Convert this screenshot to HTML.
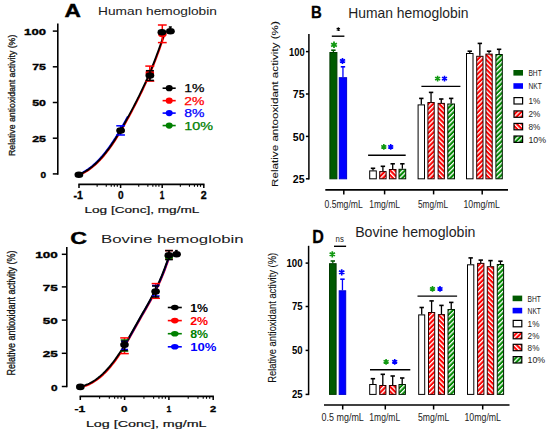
<!DOCTYPE html>
<html><head><meta charset="utf-8"><style>
html,body{margin:0;padding:0;background:#fff;width:550px;height:434px;overflow:hidden}
svg{display:block;font-family:"Liberation Sans",sans-serif}
</style></head><body>
<svg width="550" height="434" viewBox="0 0 550 434">
<defs>
<pattern id="hr1" patternUnits="userSpaceOnUse" width="3.4" height="3.4" patternTransform="rotate(45)">
<rect width="3.4" height="3.4" fill="#ff0000"/><rect width="1.3" height="3.4" fill="#ffffff"/></pattern>
<pattern id="hr2" patternUnits="userSpaceOnUse" width="3.4" height="3.4" patternTransform="rotate(-45)">
<rect width="3.4" height="3.4" fill="#ff0000"/><rect width="1.3" height="3.4" fill="#ffffff"/></pattern>
<pattern id="hg1" patternUnits="userSpaceOnUse" width="3.4" height="3.4" patternTransform="rotate(45)">
<rect width="3.4" height="3.4" fill="#008a00"/><rect width="1.3" height="3.4" fill="#ffffff"/></pattern>
</defs>
<rect width="550" height="434" fill="#fff"/>
<line x1="57.80" y1="23.50" x2="57.80" y2="174.65" stroke="#000" stroke-width="1.6"/>
<line x1="52.80" y1="173.90" x2="57.80" y2="173.90" stroke="#000" stroke-width="1.5"/>
<line x1="52.80" y1="138.20" x2="57.80" y2="138.20" stroke="#000" stroke-width="1.5"/>
<line x1="52.80" y1="102.50" x2="57.80" y2="102.50" stroke="#000" stroke-width="1.5"/>
<line x1="52.80" y1="66.80" x2="57.80" y2="66.80" stroke="#000" stroke-width="1.5"/>
<line x1="52.80" y1="31.10" x2="57.80" y2="31.10" stroke="#000" stroke-width="1.5"/>
<text x="46.00" y="177.50" font-size="9.4" fill="#000" text-anchor="end" stroke="#000" stroke-width="0.35" font-weight="bold" textLength="5.60" lengthAdjust="spacingAndGlyphs">0</text>
<text x="46.00" y="141.80" font-size="9.4" fill="#000" text-anchor="end" stroke="#000" stroke-width="0.35" font-weight="bold" textLength="13.80" lengthAdjust="spacingAndGlyphs">25</text>
<text x="46.00" y="106.10" font-size="9.4" fill="#000" text-anchor="end" stroke="#000" stroke-width="0.35" font-weight="bold" textLength="13.80" lengthAdjust="spacingAndGlyphs">50</text>
<text x="46.00" y="70.40" font-size="9.4" fill="#000" text-anchor="end" stroke="#000" stroke-width="0.35" font-weight="bold" textLength="13.80" lengthAdjust="spacingAndGlyphs">75</text>
<text x="46.00" y="34.70" font-size="9.4" fill="#000" text-anchor="end" stroke="#000" stroke-width="0.35" font-weight="bold" textLength="21.90" lengthAdjust="spacingAndGlyphs">100</text>
<line x1="78.30" y1="184.40" x2="204.50" y2="184.40" stroke="#000" stroke-width="1.6"/>
<line x1="79.00" y1="184.40" x2="79.00" y2="188.00" stroke="#000" stroke-width="1.5"/>
<line x1="120.60" y1="184.40" x2="120.60" y2="188.00" stroke="#000" stroke-width="1.5"/>
<line x1="162.20" y1="184.40" x2="162.20" y2="188.00" stroke="#000" stroke-width="1.5"/>
<line x1="203.80" y1="184.40" x2="203.80" y2="188.00" stroke="#000" stroke-width="1.5"/>
<line x1="97.14" y1="184.40" x2="97.14" y2="186.80" stroke="#000" stroke-width="1.1"/>
<line x1="106.25" y1="184.40" x2="106.25" y2="186.80" stroke="#000" stroke-width="1.1"/>
<line x1="111.24" y1="184.40" x2="111.24" y2="186.80" stroke="#000" stroke-width="1.1"/>
<line x1="114.32" y1="184.40" x2="114.32" y2="186.80" stroke="#000" stroke-width="1.1"/>
<line x1="117.31" y1="184.40" x2="117.31" y2="186.80" stroke="#000" stroke-width="1.1"/>
<line x1="138.74" y1="184.40" x2="138.74" y2="186.80" stroke="#000" stroke-width="1.1"/>
<line x1="147.85" y1="184.40" x2="147.85" y2="186.80" stroke="#000" stroke-width="1.1"/>
<line x1="152.84" y1="184.40" x2="152.84" y2="186.80" stroke="#000" stroke-width="1.1"/>
<line x1="155.92" y1="184.40" x2="155.92" y2="186.80" stroke="#000" stroke-width="1.1"/>
<line x1="158.91" y1="184.40" x2="158.91" y2="186.80" stroke="#000" stroke-width="1.1"/>
<line x1="180.34" y1="184.40" x2="180.34" y2="186.80" stroke="#000" stroke-width="1.1"/>
<line x1="189.45" y1="184.40" x2="189.45" y2="186.80" stroke="#000" stroke-width="1.1"/>
<line x1="194.44" y1="184.40" x2="194.44" y2="186.80" stroke="#000" stroke-width="1.1"/>
<line x1="197.52" y1="184.40" x2="197.52" y2="186.80" stroke="#000" stroke-width="1.1"/>
<line x1="200.51" y1="184.40" x2="200.51" y2="186.80" stroke="#000" stroke-width="1.1"/>
<text x="78.30" y="198.50" font-size="10.2" fill="#000" text-anchor="middle" stroke="#000" stroke-width="0.3" font-weight="bold" textLength="9.50" lengthAdjust="spacingAndGlyphs">-1</text>
<text x="120.70" y="198.50" font-size="10.2" fill="#000" text-anchor="middle" stroke="#000" stroke-width="0.3" font-weight="bold" textLength="5.60" lengthAdjust="spacingAndGlyphs">0</text>
<text x="162.10" y="198.50" font-size="10.2" fill="#000" text-anchor="middle" stroke="#000" stroke-width="0.3" font-weight="bold" textLength="4.60" lengthAdjust="spacingAndGlyphs">1</text>
<text x="203.60" y="198.50" font-size="10.2" fill="#000" text-anchor="middle" stroke="#000" stroke-width="0.3" font-weight="bold" textLength="5.90" lengthAdjust="spacingAndGlyphs">2</text>
<text x="84.50" y="212.80" font-size="9.6" fill="#111111" text-anchor="start" stroke="#111111" stroke-width="0.2" textLength="114.80" lengthAdjust="spacingAndGlyphs">Log [Conc], mg/mL</text>
<text x="14.70" y="156.00" font-size="9.8" fill="#111111" text-anchor="start" stroke="#111111" stroke-width="0.3" textLength="121.30" lengthAdjust="spacingAndGlyphs" transform="rotate(-90 14.70 156.00)">Relative antioxidant activity (%)</text>
<text x="64.40" y="17.00" font-size="17.6" fill="#000" text-anchor="start" stroke="#000" stroke-width="0.4" font-weight="bold" textLength="16.40" lengthAdjust="spacingAndGlyphs">A</text>
<text x="98.10" y="15.30" font-size="10.3" fill="#1c1c1c" text-anchor="start" stroke="#1c1c1c" stroke-width="0.05" textLength="118.80" lengthAdjust="spacingAndGlyphs">Human hemoglobin</text>
<line x1="66.80" y1="247.00" x2="66.80" y2="387.25" stroke="#000" stroke-width="1.6"/>
<line x1="61.80" y1="386.50" x2="66.80" y2="386.50" stroke="#000" stroke-width="1.5"/>
<line x1="61.80" y1="353.30" x2="66.80" y2="353.30" stroke="#000" stroke-width="1.5"/>
<line x1="61.80" y1="320.10" x2="66.80" y2="320.10" stroke="#000" stroke-width="1.5"/>
<line x1="61.80" y1="286.90" x2="66.80" y2="286.90" stroke="#000" stroke-width="1.5"/>
<line x1="61.80" y1="254.30" x2="66.80" y2="254.30" stroke="#000" stroke-width="1.5"/>
<text x="57.70" y="390.60" font-size="9.4" fill="#000" text-anchor="end" stroke="#000" stroke-width="0.35" font-weight="bold" textLength="6.60" lengthAdjust="spacingAndGlyphs">0</text>
<text x="57.70" y="357.40" font-size="9.4" fill="#000" text-anchor="end" stroke="#000" stroke-width="0.35" font-weight="bold" textLength="15.00" lengthAdjust="spacingAndGlyphs">25</text>
<text x="57.70" y="324.20" font-size="9.4" fill="#000" text-anchor="end" stroke="#000" stroke-width="0.35" font-weight="bold" textLength="15.00" lengthAdjust="spacingAndGlyphs">50</text>
<text x="57.70" y="291.00" font-size="9.4" fill="#000" text-anchor="end" stroke="#000" stroke-width="0.35" font-weight="bold" textLength="15.00" lengthAdjust="spacingAndGlyphs">75</text>
<text x="57.70" y="258.40" font-size="9.4" fill="#000" text-anchor="end" stroke="#000" stroke-width="0.35" font-weight="bold" textLength="22.50" lengthAdjust="spacingAndGlyphs">100</text>
<line x1="79.60" y1="396.40" x2="213.90" y2="396.40" stroke="#000" stroke-width="1.6"/>
<line x1="80.30" y1="396.40" x2="80.30" y2="400.00" stroke="#000" stroke-width="1.5"/>
<line x1="124.60" y1="396.40" x2="124.60" y2="400.00" stroke="#000" stroke-width="1.5"/>
<line x1="168.90" y1="396.40" x2="168.90" y2="400.00" stroke="#000" stroke-width="1.5"/>
<line x1="213.20" y1="396.40" x2="213.20" y2="400.00" stroke="#000" stroke-width="1.5"/>
<line x1="99.61" y1="396.40" x2="99.61" y2="398.80" stroke="#000" stroke-width="1.1"/>
<line x1="109.32" y1="396.40" x2="109.32" y2="398.80" stroke="#000" stroke-width="1.1"/>
<line x1="114.63" y1="396.40" x2="114.63" y2="398.80" stroke="#000" stroke-width="1.1"/>
<line x1="117.91" y1="396.40" x2="117.91" y2="398.80" stroke="#000" stroke-width="1.1"/>
<line x1="121.10" y1="396.40" x2="121.10" y2="398.80" stroke="#000" stroke-width="1.1"/>
<line x1="143.91" y1="396.40" x2="143.91" y2="398.80" stroke="#000" stroke-width="1.1"/>
<line x1="153.62" y1="396.40" x2="153.62" y2="398.80" stroke="#000" stroke-width="1.1"/>
<line x1="158.93" y1="396.40" x2="158.93" y2="398.80" stroke="#000" stroke-width="1.1"/>
<line x1="162.21" y1="396.40" x2="162.21" y2="398.80" stroke="#000" stroke-width="1.1"/>
<line x1="165.40" y1="396.40" x2="165.40" y2="398.80" stroke="#000" stroke-width="1.1"/>
<line x1="188.21" y1="396.40" x2="188.21" y2="398.80" stroke="#000" stroke-width="1.1"/>
<line x1="197.92" y1="396.40" x2="197.92" y2="398.80" stroke="#000" stroke-width="1.1"/>
<line x1="203.23" y1="396.40" x2="203.23" y2="398.80" stroke="#000" stroke-width="1.1"/>
<line x1="206.51" y1="396.40" x2="206.51" y2="398.80" stroke="#000" stroke-width="1.1"/>
<line x1="209.70" y1="396.40" x2="209.70" y2="398.80" stroke="#000" stroke-width="1.1"/>
<text x="79.90" y="412.00" font-size="9.4" fill="#000" text-anchor="middle" stroke="#000" stroke-width="0.3" font-weight="bold" textLength="10.80" lengthAdjust="spacingAndGlyphs">-1</text>
<text x="124.20" y="412.00" font-size="9.4" fill="#000" text-anchor="middle" stroke="#000" stroke-width="0.3" font-weight="bold" textLength="6.40" lengthAdjust="spacingAndGlyphs">0</text>
<text x="168.90" y="412.00" font-size="9.4" fill="#000" text-anchor="middle" stroke="#000" stroke-width="0.3" font-weight="bold" textLength="4.80" lengthAdjust="spacingAndGlyphs">1</text>
<text x="213.00" y="412.00" font-size="9.4" fill="#000" text-anchor="middle" stroke="#000" stroke-width="0.3" font-weight="bold" textLength="6.20" lengthAdjust="spacingAndGlyphs">2</text>
<text x="85.90" y="426.80" font-size="9.9" fill="#111111" text-anchor="start" stroke="#111111" stroke-width="0.2" textLength="120.60" lengthAdjust="spacingAndGlyphs">Log [Conc], mg/mL</text>
<text x="15.20" y="375.60" font-size="10.2" fill="#111111" text-anchor="start" stroke="#111111" stroke-width="0.3" textLength="125.10" lengthAdjust="spacingAndGlyphs" transform="rotate(-90 15.20 375.60)">Relative antioxidant activity (%)</text>
<text x="70.30" y="244.20" font-size="17.0" fill="#000" text-anchor="start" stroke="#000" stroke-width="0.4" font-weight="bold" textLength="16.80" lengthAdjust="spacingAndGlyphs">C</text>
<text x="101.00" y="242.80" font-size="11.8" fill="#1c1c1c" text-anchor="start" stroke="#1c1c1c" stroke-width="0.05" textLength="142.60" lengthAdjust="spacingAndGlyphs">Bovine hemoglobin</text>
<path d="M78.40,174.40 L79.02,174.16 L79.64,173.90 L80.26,173.63 L80.89,173.35 L81.51,173.05 L82.13,172.75 L82.75,172.43 L83.37,172.09 L83.99,171.75 L84.62,171.39 L85.24,171.02 L85.86,170.64 L86.48,170.24 L87.10,169.83 L87.72,169.41 L88.34,168.98 L88.97,168.53 L89.59,168.08 L90.21,167.61 L90.83,167.12 L91.45,166.62 L92.07,166.12 L92.69,165.59 L93.32,165.06 L93.94,164.51 L94.56,163.95 L95.18,163.38 L95.80,162.80 L96.42,162.20 L97.05,161.59 L97.67,160.96 L98.29,160.33 L98.91,159.68 L99.53,159.02 L100.15,158.34 L100.77,157.66 L101.40,156.96 L102.02,156.25 L102.64,155.52 L103.26,154.78 L103.88,154.03 L104.50,153.27 L105.13,152.50 L105.75,151.71 L106.37,150.91 L106.99,150.09 L107.61,149.27 L108.23,148.43 L108.85,147.57 L109.48,146.71 L110.10,145.83 L110.72,144.94 L111.34,144.04 L111.96,143.12 L112.58,142.20 L113.21,141.26 L113.83,140.31 L114.45,139.35 L115.07,138.37 L115.69,137.39 L116.31,136.40 L116.93,135.39 L117.56,134.38 L118.18,133.36 L118.80,132.32 L119.42,131.28 L120.04,130.23 L120.66,129.17 L121.28,128.10 L121.91,127.02 L122.53,125.94 L123.15,124.84 L123.77,123.74 L124.39,122.63 L125.01,121.52 L125.64,120.40 L126.26,119.27 L126.88,118.13 L127.50,116.99" fill="none" stroke="#0000ff" stroke-width="1.8" stroke-linejoin="round" stroke-linecap="round"/>
<path d="M79.40,174.90 L80.47,174.47 L81.54,174.01 L82.61,173.50 L83.68,172.96 L84.75,172.38 L85.83,171.77 L86.90,171.11 L87.97,170.42 L89.04,169.70 L90.11,168.93 L91.18,168.13 L92.25,167.29 L93.32,166.41 L94.39,165.49 L95.46,164.54 L96.53,163.55 L97.61,162.52 L98.68,161.45 L99.75,160.35 L100.82,159.21 L101.89,158.03 L102.96,156.81 L104.03,155.56 L105.10,154.27 L106.17,152.94 L107.24,151.57 L108.31,150.16 L109.38,148.72 L110.46,147.24 L111.53,145.72 L112.60,144.16 L113.67,142.57 L114.74,140.94 L115.81,139.28 L116.88,137.59 L117.95,135.86 L119.02,134.11 L120.09,132.33 L121.16,130.52 L122.24,128.68 L123.31,126.82 L124.38,124.94 L125.45,123.03 L126.52,121.11 L127.59,119.16 L128.66,117.20 L129.73,115.22 L130.80,113.22 L131.87,111.21 L132.94,109.18 L134.02,107.14 L135.09,105.08 L136.16,103.00 L137.23,100.90 L138.30,98.77 L139.37,96.62 L140.44,94.44 L141.51,92.24 L142.58,90.00 L143.65,87.73 L144.72,85.43 L145.79,83.09 L146.87,80.71 L147.94,78.29 L149.01,75.84 L150.08,73.34 L151.15,70.79 L152.22,68.20 L153.29,65.56 L154.36,62.87 L155.43,60.13 L156.50,57.33 L157.57,54.48 L158.65,51.57 L159.72,48.60 L160.79,45.57 L161.86,42.48 L162.93,39.33 L164.00,36.11" fill="none" stroke="#ff0000" stroke-width="1.8" stroke-linejoin="round" stroke-linecap="round"/>
<path d="M78.90,174.60 L79.97,174.17 L81.04,173.71 L82.11,173.20 L83.18,172.66 L84.25,172.08 L85.33,171.47 L86.40,170.81 L87.47,170.12 L88.54,169.40 L89.61,168.63 L90.68,167.83 L91.75,166.99 L92.82,166.11 L93.89,165.19 L94.96,164.24 L96.03,163.25 L97.11,162.22 L98.18,161.15 L99.25,160.05 L100.32,158.91 L101.39,157.73 L102.46,156.51 L103.53,155.26 L104.60,153.97 L105.67,152.64 L106.74,151.27 L107.81,149.86 L108.88,148.42 L109.96,146.94 L111.03,145.42 L112.10,143.86 L113.17,142.27 L114.24,140.64 L115.31,138.98 L116.38,137.29 L117.45,135.56 L118.52,133.81 L119.59,132.03 L120.66,130.22 L121.74,128.38 L122.81,126.52 L123.88,124.64 L124.95,122.73 L126.02,120.81 L127.09,118.86 L128.16,116.90 L129.23,114.92 L130.30,112.92 L131.37,110.91 L132.44,108.88 L133.52,106.84 L134.59,104.78 L135.66,102.70 L136.73,100.60 L137.80,98.47 L138.87,96.32 L139.94,94.14 L141.01,91.94 L142.08,89.70 L143.15,87.43 L144.22,85.13 L145.29,82.79 L146.37,80.41 L147.44,77.99 L148.51,75.54 L149.58,73.04 L150.65,70.49 L151.72,67.90 L152.79,65.26 L153.86,62.57 L154.93,59.83 L156.00,57.03 L157.07,54.18 L158.15,51.27 L159.22,48.30 L160.29,45.27 L161.36,42.18 L162.43,39.03 L163.50,35.81" fill="none" stroke="#000" stroke-width="1.8" stroke-linejoin="round" stroke-linecap="round"/>
<line x1="120.60" y1="125.80" x2="120.60" y2="135.00" stroke="#0000ff" stroke-width="1.5"/>
<line x1="116.25" y1="125.80" x2="124.95" y2="125.80" stroke="#0000ff" stroke-width="1.5"/>
<line x1="116.25" y1="135.00" x2="124.95" y2="135.00" stroke="#0000ff" stroke-width="1.5"/>
<line x1="149.80" y1="66.10" x2="149.80" y2="81.10" stroke="#ff0000" stroke-width="1.5"/>
<line x1="145.30" y1="66.10" x2="154.30" y2="66.10" stroke="#ff0000" stroke-width="1.5"/>
<line x1="145.30" y1="81.10" x2="154.30" y2="81.10" stroke="#ff0000" stroke-width="1.5"/>
<line x1="162.30" y1="25.00" x2="162.30" y2="42.60" stroke="#ff0000" stroke-width="1.5"/>
<line x1="157.90" y1="25.00" x2="166.70" y2="25.00" stroke="#ff0000" stroke-width="1.5"/>
<line x1="157.90" y1="42.60" x2="166.70" y2="42.60" stroke="#ff0000" stroke-width="1.5"/>
<ellipse cx="149.80" cy="73.00" rx="4.3" ry="3.2" fill="#ff0000"/>
<ellipse cx="162.40" cy="34.00" rx="4.3" ry="3.2" fill="#ff0000"/>
<line x1="149.90" y1="70.70" x2="149.90" y2="80.40" stroke="#000" stroke-width="1.5"/>
<line x1="145.90" y1="70.70" x2="153.90" y2="70.70" stroke="#000" stroke-width="1.5"/>
<line x1="145.90" y1="80.40" x2="153.90" y2="80.40" stroke="#000" stroke-width="1.5"/>
<line x1="170.30" y1="27.00" x2="170.30" y2="33.00" stroke="#000" stroke-width="1.5"/>
<line x1="168.80" y1="27.00" x2="171.80" y2="27.00" stroke="#000" stroke-width="1.5"/>
<line x1="168.80" y1="33.00" x2="171.80" y2="33.00" stroke="#000" stroke-width="1.5"/>
<ellipse cx="78.90" cy="174.70" rx="4.4" ry="3.3" fill="#000"/>
<ellipse cx="120.60" cy="130.60" rx="4.4" ry="3.3" fill="#000"/>
<ellipse cx="149.90" cy="75.60" rx="4.4" ry="3.3" fill="#000"/>
<ellipse cx="161.90" cy="32.20" rx="4.4" ry="3.3" fill="#000"/>
<ellipse cx="170.40" cy="31.20" rx="4.4" ry="3.3" fill="#000"/>
<line x1="162.60" y1="88.20" x2="175.70" y2="88.20" stroke="#000" stroke-width="1.6"/>
<ellipse cx="169.20" cy="88.20" rx="3.5" ry="3.1" fill="#000"/>
<text x="184.30" y="92.20" font-size="11.5" fill="#000" text-anchor="start" stroke="#000" stroke-width="0.25" textLength="20.20" lengthAdjust="spacingAndGlyphs">1%</text>
<line x1="162.60" y1="100.65" x2="175.70" y2="100.65" stroke="#ff0000" stroke-width="1.6"/>
<ellipse cx="169.20" cy="100.65" rx="3.5" ry="3.1" fill="#ff0000"/>
<text x="184.30" y="104.65" font-size="11.5" fill="#ff0000" text-anchor="start" stroke="#ff0000" stroke-width="0.25" textLength="20.20" lengthAdjust="spacingAndGlyphs">2%</text>
<line x1="162.60" y1="113.10" x2="175.70" y2="113.10" stroke="#0000ff" stroke-width="1.6"/>
<ellipse cx="169.20" cy="113.10" rx="3.5" ry="3.1" fill="#0000ff"/>
<text x="184.30" y="117.10" font-size="11.5" fill="#0000ff" text-anchor="start" stroke="#0000ff" stroke-width="0.25" textLength="20.20" lengthAdjust="spacingAndGlyphs">8%</text>
<line x1="162.60" y1="125.55" x2="175.70" y2="125.55" stroke="#008000" stroke-width="1.6"/>
<ellipse cx="169.20" cy="125.55" rx="3.5" ry="3.1" fill="#008000"/>
<text x="184.30" y="129.55" font-size="11.5" fill="#008000" text-anchor="start" stroke="#008000" stroke-width="0.25" textLength="28.80" lengthAdjust="spacingAndGlyphs">10%</text>
<path d="M80.80,387.09 L81.93,386.87 L83.05,386.60 L84.18,386.28 L85.30,385.93 L86.43,385.53 L87.55,385.09 L88.68,384.61 L89.80,384.09 L90.93,383.52 L92.05,382.91 L93.18,382.26 L94.30,381.56 L95.43,380.82 L96.55,380.04 L97.68,379.22 L98.81,378.35 L99.93,377.44 L101.06,376.48 L102.18,375.48 L103.31,374.44 L104.43,373.35 L105.56,372.22 L106.68,371.05 L107.81,369.83 L108.93,368.57 L110.06,367.27 L111.18,365.92 L112.31,364.52 L113.43,363.09 L114.56,361.60 L115.68,360.08 L116.81,358.50 L117.94,356.89 L119.06,355.23 L120.19,353.52 L121.31,351.77 L122.44,349.99 L123.56,348.16 L124.69,346.31 L125.81,344.42 L126.94,342.51 L128.06,340.57 L129.19,338.61 L130.31,336.64 L131.44,334.65 L132.56,332.65 L133.69,330.64 L134.82,328.62 L135.94,326.61 L137.07,324.59 L138.19,322.59 L139.32,320.58 L140.44,318.59 L141.57,316.62 L142.69,314.65 L143.82,312.69 L144.94,310.73 L146.07,308.76 L147.19,306.78 L148.32,304.79 L149.44,302.77 L150.57,300.72 L151.69,298.64 L152.82,296.52 L153.95,294.35 L155.07,292.13 L156.20,289.85 L157.32,287.51 L158.45,285.10 L159.57,282.62 L160.70,280.05 L161.82,277.40 L162.95,274.65 L164.07,271.80 L165.20,268.85 L166.32,265.78 L167.45,262.60 L168.57,259.29 L169.70,255.85" fill="none" stroke="#ff0000" stroke-width="1.9" stroke-linejoin="round" stroke-linecap="round"/>
<path d="M126.40,342.45 L126.95,341.52 L127.49,340.58 L128.04,339.64 L128.59,338.69 L129.13,337.73 L129.68,336.77 L130.23,335.81 L130.77,334.85 L131.32,333.88 L131.87,332.91 L132.42,331.93 L132.96,330.96 L133.51,329.98 L134.06,329.00 L134.60,328.03 L135.15,327.05 L135.70,326.07 L136.24,325.09 L136.79,324.11 L137.34,323.13 L137.88,322.16 L138.43,321.18 L138.98,320.21 L139.52,319.24 L140.07,318.27 L140.62,317.31 L141.16,316.35 L141.71,315.39 L142.26,314.43 L142.81,313.48 L143.35,312.53 L143.90,311.57 L144.45,310.62 L144.99,309.67 L145.54,308.71 L146.09,307.76 L146.63,306.80 L147.18,305.83 L147.73,304.86 L148.27,303.89 L148.82,302.91 L149.37,301.93 L149.91,300.94 L150.46,299.94 L151.01,298.93 L151.55,297.91 L152.10,296.89 L152.65,295.85 L153.19,294.81 L153.74,293.75 L154.29,292.68 L154.84,291.60 L155.38,290.50 L155.93,289.39 L156.48,288.27 L157.02,287.13 L157.57,285.97 L158.12,284.80 L158.66,283.61 L159.21,282.40 L159.76,281.17 L160.30,279.93 L160.85,278.66 L161.40,277.37 L161.94,276.06 L162.49,274.73 L163.04,273.37 L163.58,272.00 L164.13,270.59 L164.68,269.16 L165.23,267.71 L165.77,266.23 L166.32,264.72 L166.87,263.18 L167.41,261.61 L167.96,260.02 L168.51,258.39 L169.05,256.74 L169.60,255.05" fill="none" stroke="#0000ff" stroke-width="1.9" stroke-linejoin="round" stroke-linecap="round"/>
<path d="M80.30,386.49 L81.43,386.27 L82.55,386.00 L83.68,385.68 L84.80,385.33 L85.93,384.93 L87.05,384.49 L88.18,384.01 L89.30,383.49 L90.43,382.92 L91.55,382.31 L92.68,381.66 L93.80,380.96 L94.93,380.22 L96.05,379.44 L97.18,378.62 L98.31,377.75 L99.43,376.84 L100.56,375.88 L101.68,374.88 L102.81,373.84 L103.93,372.75 L105.06,371.62 L106.18,370.45 L107.31,369.23 L108.43,367.97 L109.56,366.67 L110.68,365.32 L111.81,363.92 L112.93,362.49 L114.06,361.00 L115.18,359.48 L116.31,357.90 L117.44,356.29 L118.56,354.63 L119.69,352.92 L120.81,351.17 L121.94,349.39 L123.06,347.56 L124.19,345.71 L125.31,343.82 L126.44,341.91 L127.56,339.97 L128.69,338.01 L129.81,336.04 L130.94,334.05 L132.06,332.05 L133.19,330.04 L134.32,328.02 L135.44,326.01 L136.57,323.99 L137.69,321.99 L138.82,319.98 L139.94,317.99 L141.07,316.02 L142.19,314.05 L143.32,312.09 L144.44,310.13 L145.57,308.16 L146.69,306.18 L147.82,304.19 L148.94,302.17 L150.07,300.12 L151.19,298.04 L152.32,295.92 L153.45,293.75 L154.57,291.53 L155.70,289.25 L156.82,286.91 L157.95,284.50 L159.07,282.02 L160.20,279.45 L161.32,276.80 L162.45,274.05 L163.57,271.20 L164.70,268.25 L165.82,265.18 L166.95,262.00 L168.07,258.69 L169.20,255.25" fill="none" stroke="#000" stroke-width="1.9" stroke-linejoin="round" stroke-linecap="round"/>
<line x1="124.50" y1="337.90" x2="124.50" y2="353.60" stroke="#ff0000" stroke-width="1.5"/>
<line x1="120.20" y1="337.90" x2="128.80" y2="337.90" stroke="#ff0000" stroke-width="1.5"/>
<line x1="120.20" y1="353.60" x2="128.80" y2="353.60" stroke="#ff0000" stroke-width="1.5"/>
<line x1="124.50" y1="340.00" x2="124.50" y2="351.00" stroke="#008000" stroke-width="1.5"/>
<line x1="120.70" y1="340.00" x2="128.30" y2="340.00" stroke="#008000" stroke-width="1.5"/>
<line x1="120.70" y1="351.00" x2="128.30" y2="351.00" stroke="#008000" stroke-width="1.5"/>
<line x1="124.50" y1="341.50" x2="124.50" y2="349.50" stroke="#0000ff" stroke-width="1.5"/>
<line x1="121.00" y1="341.50" x2="128.00" y2="341.50" stroke="#0000ff" stroke-width="1.5"/>
<line x1="121.00" y1="349.50" x2="128.00" y2="349.50" stroke="#0000ff" stroke-width="1.5"/>
<line x1="155.80" y1="283.60" x2="155.80" y2="298.30" stroke="#ff0000" stroke-width="1.5"/>
<line x1="151.65" y1="283.60" x2="159.95" y2="283.60" stroke="#ff0000" stroke-width="1.5"/>
<line x1="151.65" y1="298.30" x2="159.95" y2="298.30" stroke="#ff0000" stroke-width="1.5"/>
<line x1="155.80" y1="285.50" x2="155.80" y2="296.00" stroke="#0000ff" stroke-width="1.5"/>
<line x1="152.00" y1="285.50" x2="159.60" y2="285.50" stroke="#0000ff" stroke-width="1.5"/>
<line x1="152.00" y1="296.00" x2="159.60" y2="296.00" stroke="#0000ff" stroke-width="1.5"/>
<line x1="169.00" y1="250.60" x2="169.00" y2="259.00" stroke="#ff0000" stroke-width="1.5"/>
<line x1="165.00" y1="250.60" x2="173.00" y2="250.60" stroke="#ff0000" stroke-width="1.5"/>
<line x1="165.00" y1="259.00" x2="173.00" y2="259.00" stroke="#ff0000" stroke-width="1.5"/>
<ellipse cx="169.00" cy="256.50" rx="4.2" ry="3.2" fill="#008000"/>
<line x1="155.60" y1="286.00" x2="155.60" y2="297.00" stroke="#000" stroke-width="1.5"/>
<line x1="152.10" y1="286.00" x2="159.10" y2="286.00" stroke="#000" stroke-width="1.5"/>
<line x1="152.10" y1="297.00" x2="159.10" y2="297.00" stroke="#000" stroke-width="1.5"/>
<line x1="124.50" y1="341.00" x2="124.50" y2="350.50" stroke="#000" stroke-width="1.5"/>
<line x1="121.25" y1="341.00" x2="127.75" y2="341.00" stroke="#000" stroke-width="1.5"/>
<line x1="121.25" y1="350.50" x2="127.75" y2="350.50" stroke="#000" stroke-width="1.5"/>
<line x1="169.00" y1="250.60" x2="169.00" y2="259.60" stroke="#000" stroke-width="1.5"/>
<line x1="165.20" y1="250.60" x2="172.80" y2="250.60" stroke="#000" stroke-width="1.5"/>
<line x1="165.20" y1="259.60" x2="172.80" y2="259.60" stroke="#000" stroke-width="1.5"/>
<line x1="176.40" y1="250.60" x2="176.40" y2="254.00" stroke="#000" stroke-width="1.5"/>
<line x1="175.10" y1="250.60" x2="177.70" y2="250.60" stroke="#000" stroke-width="1.5"/>
<line x1="175.10" y1="254.00" x2="177.70" y2="254.00" stroke="#000" stroke-width="1.5"/>
<ellipse cx="80.30" cy="386.90" rx="4.3" ry="3.3" fill="#000"/>
<ellipse cx="124.50" cy="344.80" rx="4.3" ry="3.3" fill="#000"/>
<ellipse cx="155.60" cy="291.50" rx="4.3" ry="3.3" fill="#000"/>
<ellipse cx="168.80" cy="255.20" rx="4.3" ry="3.3" fill="#000"/>
<ellipse cx="176.60" cy="254.20" rx="4.3" ry="3.3" fill="#000"/>
<line x1="167.80" y1="307.50" x2="181.80" y2="307.50" stroke="#000" stroke-width="1.6"/>
<ellipse cx="174.80" cy="307.50" rx="3.8" ry="2.8" fill="#000"/>
<text x="190.20" y="311.60" font-size="11.2" fill="#000" text-anchor="start" font-weight="bold" textLength="17.90" lengthAdjust="spacingAndGlyphs">1%</text>
<line x1="167.80" y1="320.60" x2="181.80" y2="320.60" stroke="#ff0000" stroke-width="1.6"/>
<ellipse cx="174.80" cy="320.60" rx="3.8" ry="2.8" fill="#ff0000"/>
<text x="190.20" y="324.70" font-size="11.2" fill="#ff0000" text-anchor="start" font-weight="bold" textLength="17.90" lengthAdjust="spacingAndGlyphs">2%</text>
<line x1="167.80" y1="333.70" x2="181.80" y2="333.70" stroke="#008000" stroke-width="1.6"/>
<ellipse cx="174.80" cy="333.70" rx="3.8" ry="2.8" fill="#008000"/>
<text x="190.20" y="337.80" font-size="11.2" fill="#008000" text-anchor="start" font-weight="bold" textLength="17.90" lengthAdjust="spacingAndGlyphs">8%</text>
<line x1="167.80" y1="346.80" x2="181.80" y2="346.80" stroke="#0000ff" stroke-width="1.6"/>
<ellipse cx="174.80" cy="346.80" rx="3.8" ry="2.8" fill="#0000ff"/>
<text x="190.20" y="350.90" font-size="11.2" fill="#0000ff" text-anchor="start" font-weight="bold" textLength="26.20" lengthAdjust="spacingAndGlyphs">10%</text>
<line x1="308.90" y1="34.10" x2="308.90" y2="179.50" stroke="#000" stroke-width="1.5"/>
<line x1="305.90" y1="178.80" x2="308.90" y2="178.80" stroke="#000" stroke-width="1.5"/>
<line x1="305.90" y1="136.40" x2="308.90" y2="136.40" stroke="#000" stroke-width="1.5"/>
<line x1="305.90" y1="94.00" x2="308.90" y2="94.00" stroke="#000" stroke-width="1.5"/>
<line x1="305.90" y1="51.60" x2="308.90" y2="51.60" stroke="#000" stroke-width="1.5"/>
<text x="304.60" y="183.00" font-size="11.6" fill="#000" text-anchor="end" font-weight="bold" textLength="11.80" lengthAdjust="spacingAndGlyphs">25</text>
<text x="304.60" y="140.60" font-size="11.6" fill="#000" text-anchor="end" font-weight="bold" textLength="11.80" lengthAdjust="spacingAndGlyphs">50</text>
<text x="304.60" y="98.20" font-size="11.6" fill="#000" text-anchor="end" font-weight="bold" textLength="11.80" lengthAdjust="spacingAndGlyphs">75</text>
<text x="304.60" y="55.80" font-size="11.6" fill="#000" text-anchor="end" font-weight="bold" textLength="15.60" lengthAdjust="spacingAndGlyphs">100</text>
<line x1="325.30" y1="189.90" x2="508.00" y2="189.90" stroke="#000" stroke-width="1.6"/>
<line x1="343.80" y1="189.90" x2="343.80" y2="194.40" stroke="#000" stroke-width="1.5"/>
<line x1="384.60" y1="189.90" x2="384.60" y2="194.40" stroke="#000" stroke-width="1.5"/>
<line x1="433.60" y1="189.90" x2="433.60" y2="194.40" stroke="#000" stroke-width="1.5"/>
<line x1="482.20" y1="189.90" x2="482.20" y2="194.40" stroke="#000" stroke-width="1.5"/>
<text x="324.50" y="208.20" font-size="10.5" fill="#222" text-anchor="start" textLength="38.20" lengthAdjust="spacingAndGlyphs">0.5mg/mL</text>
<text x="369.30" y="208.20" font-size="10.5" fill="#222" text-anchor="start" textLength="30.70" lengthAdjust="spacingAndGlyphs">1mg/mL</text>
<text x="418.00" y="208.20" font-size="10.5" fill="#222" text-anchor="start" textLength="30.00" lengthAdjust="spacingAndGlyphs">5mg/mL</text>
<text x="463.50" y="208.20" font-size="10.5" fill="#222" text-anchor="start" textLength="36.30" lengthAdjust="spacingAndGlyphs">10mg/mL</text>
<text x="277.90" y="186.90" font-size="9.6" fill="#111111" text-anchor="start" stroke="#111111" stroke-width="0.1" textLength="165.70" lengthAdjust="spacingAndGlyphs" transform="rotate(-90 277.90 186.90)">Relative antooxidant activity (%)</text>
<text x="311.00" y="18.00" font-size="17.0" fill="#000" text-anchor="start" stroke="#000" stroke-width="0.3" font-weight="bold" textLength="10.80" lengthAdjust="spacingAndGlyphs">B</text>
<text x="348.20" y="17.70" font-size="15.0" fill="#1e1e1e" text-anchor="start" textLength="120.30" lengthAdjust="spacingAndGlyphs">Human hemoglobin</text>
<line x1="333.40" y1="52.00" x2="333.40" y2="50.20" stroke="#005a00" stroke-width="1.3"/>
<line x1="331.20" y1="50.20" x2="335.60" y2="50.20" stroke="#005a00" stroke-width="1.6"/>
<rect x="329.90" y="52.50" width="7.00" height="126.30" fill="#005a00" stroke="#003a00" stroke-width="1.0"/>
<line x1="342.95" y1="77.20" x2="342.95" y2="66.80" stroke="#0000ff" stroke-width="1.3"/>
<line x1="340.75" y1="66.80" x2="345.15" y2="66.80" stroke="#0000ff" stroke-width="1.6"/>
<rect x="339.30" y="77.70" width="7.30" height="101.10" fill="#0000ff" stroke="#0000d0" stroke-width="1.0"/>
<line x1="373.00" y1="170.40" x2="373.00" y2="168.30" stroke="#000" stroke-width="1.3"/>
<line x1="370.80" y1="168.30" x2="375.20" y2="168.30" stroke="#000" stroke-width="1.6"/>
<rect x="369.70" y="170.90" width="6.60" height="7.90" fill="#ffffff" stroke="#000" stroke-width="1.0"/>
<line x1="382.90" y1="171.10" x2="382.90" y2="166.30" stroke="#000" stroke-width="1.3"/>
<line x1="380.70" y1="166.30" x2="385.10" y2="166.30" stroke="#000" stroke-width="1.6"/>
<rect x="379.70" y="171.60" width="6.40" height="7.20" fill="url(#hr1)" stroke="#2a0000" stroke-width="1.0"/>
<line x1="392.70" y1="169.00" x2="392.70" y2="163.80" stroke="#000" stroke-width="1.3"/>
<line x1="390.50" y1="163.80" x2="394.90" y2="163.80" stroke="#000" stroke-width="1.6"/>
<rect x="389.40" y="169.50" width="6.60" height="9.30" fill="url(#hr2)" stroke="#2a0000" stroke-width="1.0"/>
<line x1="402.35" y1="168.80" x2="402.35" y2="163.80" stroke="#000" stroke-width="1.3"/>
<line x1="400.15" y1="163.80" x2="404.55" y2="163.80" stroke="#000" stroke-width="1.6"/>
<rect x="399.00" y="169.30" width="6.70" height="9.50" fill="url(#hg1)" stroke="#001a00" stroke-width="1.0"/>
<line x1="421.30" y1="104.40" x2="421.30" y2="98.40" stroke="#000" stroke-width="1.3"/>
<line x1="419.10" y1="98.40" x2="423.50" y2="98.40" stroke="#000" stroke-width="1.6"/>
<rect x="418.10" y="104.90" width="6.40" height="73.90" fill="#ffffff" stroke="#000" stroke-width="1.0"/>
<line x1="431.05" y1="102.00" x2="431.05" y2="92.40" stroke="#000" stroke-width="1.3"/>
<line x1="428.85" y1="92.40" x2="433.25" y2="92.40" stroke="#000" stroke-width="1.6"/>
<rect x="427.90" y="102.50" width="6.30" height="76.30" fill="url(#hr1)" stroke="#2a0000" stroke-width="1.0"/>
<line x1="441.25" y1="102.90" x2="441.25" y2="99.00" stroke="#000" stroke-width="1.3"/>
<line x1="439.05" y1="99.00" x2="443.45" y2="99.00" stroke="#000" stroke-width="1.6"/>
<rect x="438.10" y="103.40" width="6.30" height="75.40" fill="url(#hr2)" stroke="#2a0000" stroke-width="1.0"/>
<line x1="451.15" y1="103.50" x2="451.15" y2="98.40" stroke="#000" stroke-width="1.3"/>
<line x1="448.95" y1="98.40" x2="453.35" y2="98.40" stroke="#000" stroke-width="1.6"/>
<rect x="447.80" y="104.00" width="6.70" height="74.80" fill="url(#hg1)" stroke="#001a00" stroke-width="1.0"/>
<line x1="469.75" y1="53.00" x2="469.75" y2="51.20" stroke="#000" stroke-width="1.3"/>
<line x1="467.55" y1="51.20" x2="471.95" y2="51.20" stroke="#000" stroke-width="1.6"/>
<rect x="466.50" y="53.50" width="6.50" height="125.30" fill="#ffffff" stroke="#000" stroke-width="1.0"/>
<line x1="479.85" y1="55.80" x2="479.85" y2="43.40" stroke="#000" stroke-width="1.3"/>
<line x1="477.65" y1="43.40" x2="482.05" y2="43.40" stroke="#000" stroke-width="1.6"/>
<rect x="476.70" y="56.30" width="6.30" height="122.50" fill="url(#hr1)" stroke="#2a0000" stroke-width="1.0"/>
<line x1="489.05" y1="53.60" x2="489.05" y2="51.20" stroke="#000" stroke-width="1.3"/>
<line x1="486.85" y1="51.20" x2="491.25" y2="51.20" stroke="#000" stroke-width="1.6"/>
<rect x="485.90" y="54.10" width="6.30" height="124.70" fill="url(#hr2)" stroke="#2a0000" stroke-width="1.0"/>
<line x1="499.10" y1="54.00" x2="499.10" y2="49.30" stroke="#000" stroke-width="1.3"/>
<line x1="496.90" y1="49.30" x2="501.30" y2="49.30" stroke="#000" stroke-width="1.6"/>
<rect x="495.90" y="54.50" width="6.40" height="124.30" fill="url(#hg1)" stroke="#001a00" stroke-width="1.0"/>
<line x1="331.80" y1="36.20" x2="344.40" y2="36.20" stroke="#000" stroke-width="1.4"/>
<line x1="368.10" y1="155.20" x2="405.70" y2="155.20" stroke="#000" stroke-width="1.4"/>
<line x1="421.40" y1="86.40" x2="460.40" y2="86.40" stroke="#000" stroke-width="1.4"/>
<path d="M338.30,27.30 L338.30,31.10 M336.65,28.25 L339.95,30.15 M339.95,28.25 L336.65,30.15 " stroke="#000" stroke-width="1.10" stroke-linecap="butt"/>
<path d="M334.00,41.50 L334.00,48.10 M331.14,43.15 L336.86,46.45 M336.86,43.15 L331.14,46.45 " stroke="#119911" stroke-width="1.78" stroke-linecap="butt"/>
<path d="M342.50,58.00 L342.50,64.00 M339.90,59.50 L345.10,62.50 M345.10,59.50 L339.90,62.50 " stroke="#0000ff" stroke-width="1.62" stroke-linecap="butt"/>
<path d="M383.80,144.00 L383.80,149.80 M381.29,145.45 L386.31,148.35 M386.31,145.45 L381.29,148.35 " stroke="#119911" stroke-width="1.57" stroke-linecap="butt"/>
<path d="M390.70,144.00 L390.70,149.80 M388.19,145.45 L393.21,148.35 M393.21,145.45 L388.19,148.35 " stroke="#0000ff" stroke-width="1.57" stroke-linecap="butt"/>
<path d="M437.60,75.70 L437.60,81.50 M435.09,77.15 L440.11,80.05 M440.11,77.15 L435.09,80.05 " stroke="#119911" stroke-width="1.57" stroke-linecap="butt"/>
<path d="M444.50,75.70 L444.50,81.50 M441.99,77.15 L447.01,80.05 M447.01,77.15 L441.99,80.05 " stroke="#0000ff" stroke-width="1.57" stroke-linecap="butt"/>
<rect x="513.40" y="70.00" width="9.60" height="5.60" fill="#005a00"/>
<text x="528.40" y="76.10" font-size="9.2" fill="#222" text-anchor="start" textLength="13.30" lengthAdjust="spacingAndGlyphs">BHT</text>
<rect x="513.40" y="83.20" width="9.60" height="5.60" fill="#0000ff"/>
<text x="528.40" y="89.30" font-size="9.2" fill="#222" text-anchor="start" textLength="13.30" lengthAdjust="spacingAndGlyphs">NKT</text>
<rect x="514.00" y="97.60" width="8.60" height="6.40" fill="#ffffff" stroke="#000" stroke-width="1.2"/>
<text x="528.40" y="104.10" font-size="9.2" fill="#222" text-anchor="start" textLength="11.80" lengthAdjust="spacingAndGlyphs">1%</text>
<rect x="514.00" y="110.90" width="8.60" height="6.40" fill="url(#hr1)" stroke="#000" stroke-width="1.2"/>
<text x="528.40" y="117.40" font-size="9.2" fill="#222" text-anchor="start" textLength="11.80" lengthAdjust="spacingAndGlyphs">2%</text>
<rect x="514.00" y="123.40" width="8.60" height="6.40" fill="url(#hr2)" stroke="#000" stroke-width="1.2"/>
<text x="528.40" y="129.90" font-size="9.2" fill="#222" text-anchor="start" textLength="11.80" lengthAdjust="spacingAndGlyphs">8%</text>
<rect x="514.00" y="136.00" width="8.60" height="6.40" fill="url(#hg1)" stroke="#000" stroke-width="1.2"/>
<text x="528.40" y="142.50" font-size="9.2" fill="#222" text-anchor="start" textLength="17.60" lengthAdjust="spacingAndGlyphs">10%</text>
<line x1="308.60" y1="245.80" x2="308.60" y2="395.10" stroke="#000" stroke-width="1.5"/>
<line x1="305.60" y1="394.40" x2="308.60" y2="394.40" stroke="#000" stroke-width="1.5"/>
<line x1="305.60" y1="350.40" x2="308.60" y2="350.40" stroke="#000" stroke-width="1.5"/>
<line x1="305.60" y1="306.50" x2="308.60" y2="306.50" stroke="#000" stroke-width="1.5"/>
<line x1="305.60" y1="263.10" x2="308.60" y2="263.10" stroke="#000" stroke-width="1.5"/>
<text x="302.60" y="398.30" font-size="11.0" fill="#000" text-anchor="end" font-weight="bold" textLength="10.60" lengthAdjust="spacingAndGlyphs">25</text>
<text x="302.60" y="354.30" font-size="11.0" fill="#000" text-anchor="end" font-weight="bold" textLength="10.60" lengthAdjust="spacingAndGlyphs">50</text>
<text x="302.60" y="310.40" font-size="11.0" fill="#000" text-anchor="end" font-weight="bold" textLength="10.60" lengthAdjust="spacingAndGlyphs">75</text>
<text x="302.60" y="267.00" font-size="11.0" fill="#000" text-anchor="end" font-weight="bold" textLength="16.10" lengthAdjust="spacingAndGlyphs">100</text>
<line x1="324.00" y1="405.00" x2="509.50" y2="405.00" stroke="#000" stroke-width="1.6"/>
<line x1="342.70" y1="405.00" x2="342.70" y2="409.50" stroke="#000" stroke-width="1.5"/>
<line x1="385.30" y1="405.00" x2="385.30" y2="409.50" stroke="#000" stroke-width="1.5"/>
<line x1="433.60" y1="405.00" x2="433.60" y2="409.50" stroke="#000" stroke-width="1.5"/>
<line x1="482.70" y1="405.00" x2="482.70" y2="409.50" stroke="#000" stroke-width="1.5"/>
<text x="321.60" y="421.00" font-size="10.5" fill="#222" text-anchor="start" textLength="42.20" lengthAdjust="spacingAndGlyphs">0.5 mg/mL</text>
<text x="369.30" y="421.00" font-size="10.5" fill="#222" text-anchor="start" textLength="30.90" lengthAdjust="spacingAndGlyphs">1mg/mL</text>
<text x="418.00" y="421.00" font-size="10.5" fill="#222" text-anchor="start" textLength="31.30" lengthAdjust="spacingAndGlyphs">5mg/mL</text>
<text x="464.50" y="421.00" font-size="10.5" fill="#222" text-anchor="start" textLength="36.50" lengthAdjust="spacingAndGlyphs">10mg/mL</text>
<text x="276.30" y="382.80" font-size="10.3" fill="#111111" text-anchor="start" stroke="#111111" stroke-width="0.1" textLength="129.90" lengthAdjust="spacingAndGlyphs" transform="rotate(-90 276.30 382.80)">Relative antioxidant activity (%)</text>
<text x="312.20" y="242.80" font-size="18.5" fill="#000" text-anchor="start" stroke="#000" stroke-width="0.3" font-weight="bold" textLength="11.60" lengthAdjust="spacingAndGlyphs">D</text>
<text x="355.20" y="237.20" font-size="14.5" fill="#1e1e1e" text-anchor="start" textLength="120.30" lengthAdjust="spacingAndGlyphs">Bovine hemoglobin</text>
<line x1="332.80" y1="263.20" x2="332.80" y2="261.00" stroke="#005a00" stroke-width="1.3"/>
<line x1="330.60" y1="261.00" x2="335.00" y2="261.00" stroke="#005a00" stroke-width="1.6"/>
<rect x="329.50" y="263.70" width="6.60" height="130.70" fill="#005a00" stroke="#003a00" stroke-width="1.0"/>
<line x1="342.45" y1="290.30" x2="342.45" y2="279.20" stroke="#0000ff" stroke-width="1.3"/>
<line x1="340.25" y1="279.20" x2="344.65" y2="279.20" stroke="#0000ff" stroke-width="1.6"/>
<rect x="339.20" y="290.80" width="6.50" height="103.60" fill="#0000ff" stroke="#0000d0" stroke-width="1.0"/>
<line x1="372.90" y1="384.00" x2="372.90" y2="378.70" stroke="#000" stroke-width="1.3"/>
<line x1="370.70" y1="378.70" x2="375.10" y2="378.70" stroke="#000" stroke-width="1.6"/>
<rect x="369.70" y="384.50" width="6.40" height="9.90" fill="#ffffff" stroke="#000" stroke-width="1.0"/>
<line x1="382.80" y1="385.00" x2="382.80" y2="374.30" stroke="#000" stroke-width="1.3"/>
<line x1="380.60" y1="374.30" x2="385.00" y2="374.30" stroke="#000" stroke-width="1.6"/>
<rect x="379.70" y="385.50" width="6.20" height="8.90" fill="url(#hr1)" stroke="#2a0000" stroke-width="1.0"/>
<line x1="392.70" y1="385.00" x2="392.70" y2="376.00" stroke="#000" stroke-width="1.3"/>
<line x1="390.50" y1="376.00" x2="394.90" y2="376.00" stroke="#000" stroke-width="1.6"/>
<rect x="389.40" y="385.50" width="6.60" height="8.90" fill="url(#hr2)" stroke="#2a0000" stroke-width="1.0"/>
<line x1="402.20" y1="384.00" x2="402.20" y2="378.00" stroke="#000" stroke-width="1.3"/>
<line x1="400.00" y1="378.00" x2="404.40" y2="378.00" stroke="#000" stroke-width="1.6"/>
<rect x="399.00" y="384.50" width="6.40" height="9.90" fill="url(#hg1)" stroke="#001a00" stroke-width="1.0"/>
<line x1="421.70" y1="314.40" x2="421.70" y2="307.50" stroke="#000" stroke-width="1.3"/>
<line x1="419.50" y1="307.50" x2="423.90" y2="307.50" stroke="#000" stroke-width="1.6"/>
<rect x="418.70" y="314.90" width="6.00" height="79.50" fill="#ffffff" stroke="#000" stroke-width="1.0"/>
<line x1="431.60" y1="312.00" x2="431.60" y2="300.90" stroke="#000" stroke-width="1.3"/>
<line x1="429.40" y1="300.90" x2="433.80" y2="300.90" stroke="#000" stroke-width="1.6"/>
<rect x="428.50" y="312.50" width="6.20" height="81.90" fill="url(#hr1)" stroke="#2a0000" stroke-width="1.0"/>
<line x1="441.45" y1="314.10" x2="441.45" y2="305.40" stroke="#000" stroke-width="1.3"/>
<line x1="439.25" y1="305.40" x2="443.65" y2="305.40" stroke="#000" stroke-width="1.6"/>
<rect x="438.40" y="314.60" width="6.10" height="79.80" fill="url(#hr2)" stroke="#2a0000" stroke-width="1.0"/>
<line x1="451.25" y1="309.00" x2="451.25" y2="302.40" stroke="#000" stroke-width="1.3"/>
<line x1="449.05" y1="302.40" x2="453.45" y2="302.40" stroke="#000" stroke-width="1.6"/>
<rect x="448.00" y="309.50" width="6.50" height="84.90" fill="url(#hg1)" stroke="#001a00" stroke-width="1.0"/>
<line x1="470.65" y1="264.30" x2="470.65" y2="257.90" stroke="#000" stroke-width="1.3"/>
<line x1="468.45" y1="257.90" x2="472.85" y2="257.90" stroke="#000" stroke-width="1.6"/>
<rect x="467.50" y="264.80" width="6.30" height="129.60" fill="#ffffff" stroke="#000" stroke-width="1.0"/>
<line x1="480.75" y1="262.90" x2="480.75" y2="260.10" stroke="#000" stroke-width="1.3"/>
<line x1="478.55" y1="260.10" x2="482.95" y2="260.10" stroke="#000" stroke-width="1.6"/>
<rect x="477.60" y="263.40" width="6.30" height="131.00" fill="url(#hr1)" stroke="#2a0000" stroke-width="1.0"/>
<line x1="490.50" y1="266.20" x2="490.50" y2="260.60" stroke="#000" stroke-width="1.3"/>
<line x1="488.30" y1="260.60" x2="492.70" y2="260.60" stroke="#000" stroke-width="1.6"/>
<rect x="487.30" y="266.70" width="6.40" height="127.70" fill="url(#hr2)" stroke="#2a0000" stroke-width="1.0"/>
<line x1="500.45" y1="264.00" x2="500.45" y2="261.20" stroke="#000" stroke-width="1.3"/>
<line x1="498.25" y1="261.20" x2="502.65" y2="261.20" stroke="#000" stroke-width="1.6"/>
<rect x="497.30" y="264.50" width="6.30" height="129.90" fill="url(#hg1)" stroke="#001a00" stroke-width="1.0"/>
<line x1="334.00" y1="246.30" x2="346.10" y2="246.30" stroke="#000" stroke-width="1.4"/>
<line x1="370.00" y1="369.70" x2="410.30" y2="369.70" stroke="#000" stroke-width="1.4"/>
<line x1="417.50" y1="296.10" x2="457.10" y2="296.10" stroke="#000" stroke-width="1.4"/>
<path d="M332.30,251.20 L332.30,257.40 M329.62,252.75 L334.98,255.85 M334.98,252.75 L329.62,255.85 " stroke="#119911" stroke-width="1.67" stroke-linecap="butt"/>
<path d="M341.70,269.20 L341.70,275.40 M339.02,270.75 L344.38,273.85 M344.38,270.75 L339.02,273.85 " stroke="#0000ff" stroke-width="1.67" stroke-linecap="butt"/>
<path d="M386.10,358.90 L386.10,364.70 M383.59,360.35 L388.61,363.25 M388.61,360.35 L383.59,363.25 " stroke="#119911" stroke-width="1.57" stroke-linecap="butt"/>
<path d="M394.70,358.90 L394.70,364.70 M392.19,360.35 L397.21,363.25 M397.21,360.35 L392.19,363.25 " stroke="#0000ff" stroke-width="1.57" stroke-linecap="butt"/>
<path d="M432.50,286.00 L432.50,291.80 M429.99,287.45 L435.01,290.35 M435.01,287.45 L429.99,290.35 " stroke="#119911" stroke-width="1.57" stroke-linecap="butt"/>
<path d="M440.00,286.00 L440.00,291.80 M437.49,287.45 L442.51,290.35 M442.51,287.45 L437.49,290.35 " stroke="#0000ff" stroke-width="1.57" stroke-linecap="butt"/>
<rect x="512.60" y="295.60" width="9.60" height="5.60" fill="#005a00"/>
<text x="527.60" y="301.70" font-size="9.2" fill="#222" text-anchor="start" textLength="13.30" lengthAdjust="spacingAndGlyphs">BHT</text>
<rect x="512.60" y="307.80" width="9.60" height="5.60" fill="#0000ff"/>
<text x="527.60" y="313.90" font-size="9.2" fill="#222" text-anchor="start" textLength="13.30" lengthAdjust="spacingAndGlyphs">NKT</text>
<rect x="513.20" y="320.40" width="8.60" height="6.40" fill="#ffffff" stroke="#000" stroke-width="1.2"/>
<text x="527.60" y="326.90" font-size="9.2" fill="#222" text-anchor="start" textLength="11.80" lengthAdjust="spacingAndGlyphs">1%</text>
<rect x="513.20" y="332.40" width="8.60" height="6.40" fill="url(#hr1)" stroke="#000" stroke-width="1.2"/>
<text x="527.60" y="338.90" font-size="9.2" fill="#222" text-anchor="start" textLength="11.80" lengthAdjust="spacingAndGlyphs">2%</text>
<rect x="513.20" y="344.30" width="8.60" height="6.40" fill="url(#hr2)" stroke="#000" stroke-width="1.2"/>
<text x="527.60" y="350.80" font-size="9.2" fill="#222" text-anchor="start" textLength="11.80" lengthAdjust="spacingAndGlyphs">8%</text>
<rect x="513.20" y="356.60" width="8.60" height="6.40" fill="url(#hg1)" stroke="#000" stroke-width="1.2"/>
<text x="527.60" y="363.10" font-size="9.2" fill="#222" text-anchor="start" textLength="17.60" lengthAdjust="spacingAndGlyphs">10%</text>
<text x="335.60" y="241.70" font-size="9.4" fill="#222" text-anchor="start" textLength="8.20" lengthAdjust="spacingAndGlyphs">ns</text>
</svg>
</body></html>
